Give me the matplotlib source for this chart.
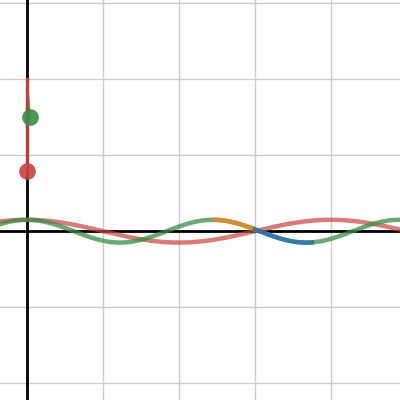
import numpy as np
import matplotlib
matplotlib.use("Agg")
import matplotlib.pyplot as plt

# Curve parameters
green_amp = 0.15
green_period = 2.45
red_amp = 0.15
red_period = 4.0
orange_range = [2.47, 3.0]
blue_range = [3.0, 3.75]
red_seg_x = [0.0, 0.0]
red_seg_y = [2.0, 0.79]
green_seg_x = [0.0, 0.04]
green_seg_y = [2.0, 1.5]
red_point = (0.0, 0.79)
green_point = (0.04, 1.5)

xmin, xmax = -0.355, 4.91
ymin, ymax = -2.22, 3.04

fig = plt.figure(figsize=(4, 4), dpi=100)
ax = fig.add_axes([0, 0, 1, 1])
ax.set_xlim(xmin, xmax)
ax.set_ylim(ymin, ymax)
for v in range(0, 5):
    ax.axvline(v, color="#cccccc", lw=1, zorder=0)
for v in range(-2, 4):
    ax.axhline(v, color="#cccccc", lw=1, zorder=0)
ax.axhline(0, color="black", lw=2, zorder=1)
ax.axvline(0, color="black", lw=2, zorder=1)

x = np.linspace(xmin, xmax, 800)
g = lambda t: green_amp * np.cos(2 * np.pi * t / green_period)
r = lambda t: red_amp * np.cos(2 * np.pi * t / red_period)
ax.plot(x, g(x), color="#388c46", lw=3.2, alpha=0.75, zorder=3, solid_capstyle="round")
ax.plot(x, r(x), color="#c74440", lw=3.2, alpha=0.7, zorder=2, solid_capstyle="round")
xo = np.linspace(*orange_range, 100)
ax.plot(xo, g(xo), color="#e08a2a", lw=3.2, alpha=0.9, zorder=4)
xb = np.linspace(*blue_range, 100)
ax.plot(xb, g(xb), color="#2d70b3", lw=3.2, alpha=0.85, zorder=4)

ax.plot(green_seg_x, green_seg_y, color="#388c46", lw=1.5, alpha=0.8, zorder=5)
ax.plot(red_seg_x, red_seg_y, color="#c74440", lw=2.5, alpha=0.9, zorder=5)
ax.plot(*red_point, "o", color="#c74440", ms=12, alpha=0.9, zorder=6, mec="none")
ax.plot(*green_point, "o", color="#388c46", ms=12, alpha=0.9, zorder=6, mec="none")

ax.set_xticks([]); ax.set_yticks([])
for s in ax.spines.values():
    s.set_visible(False)
fig.savefig("out.png", dpi=100)
